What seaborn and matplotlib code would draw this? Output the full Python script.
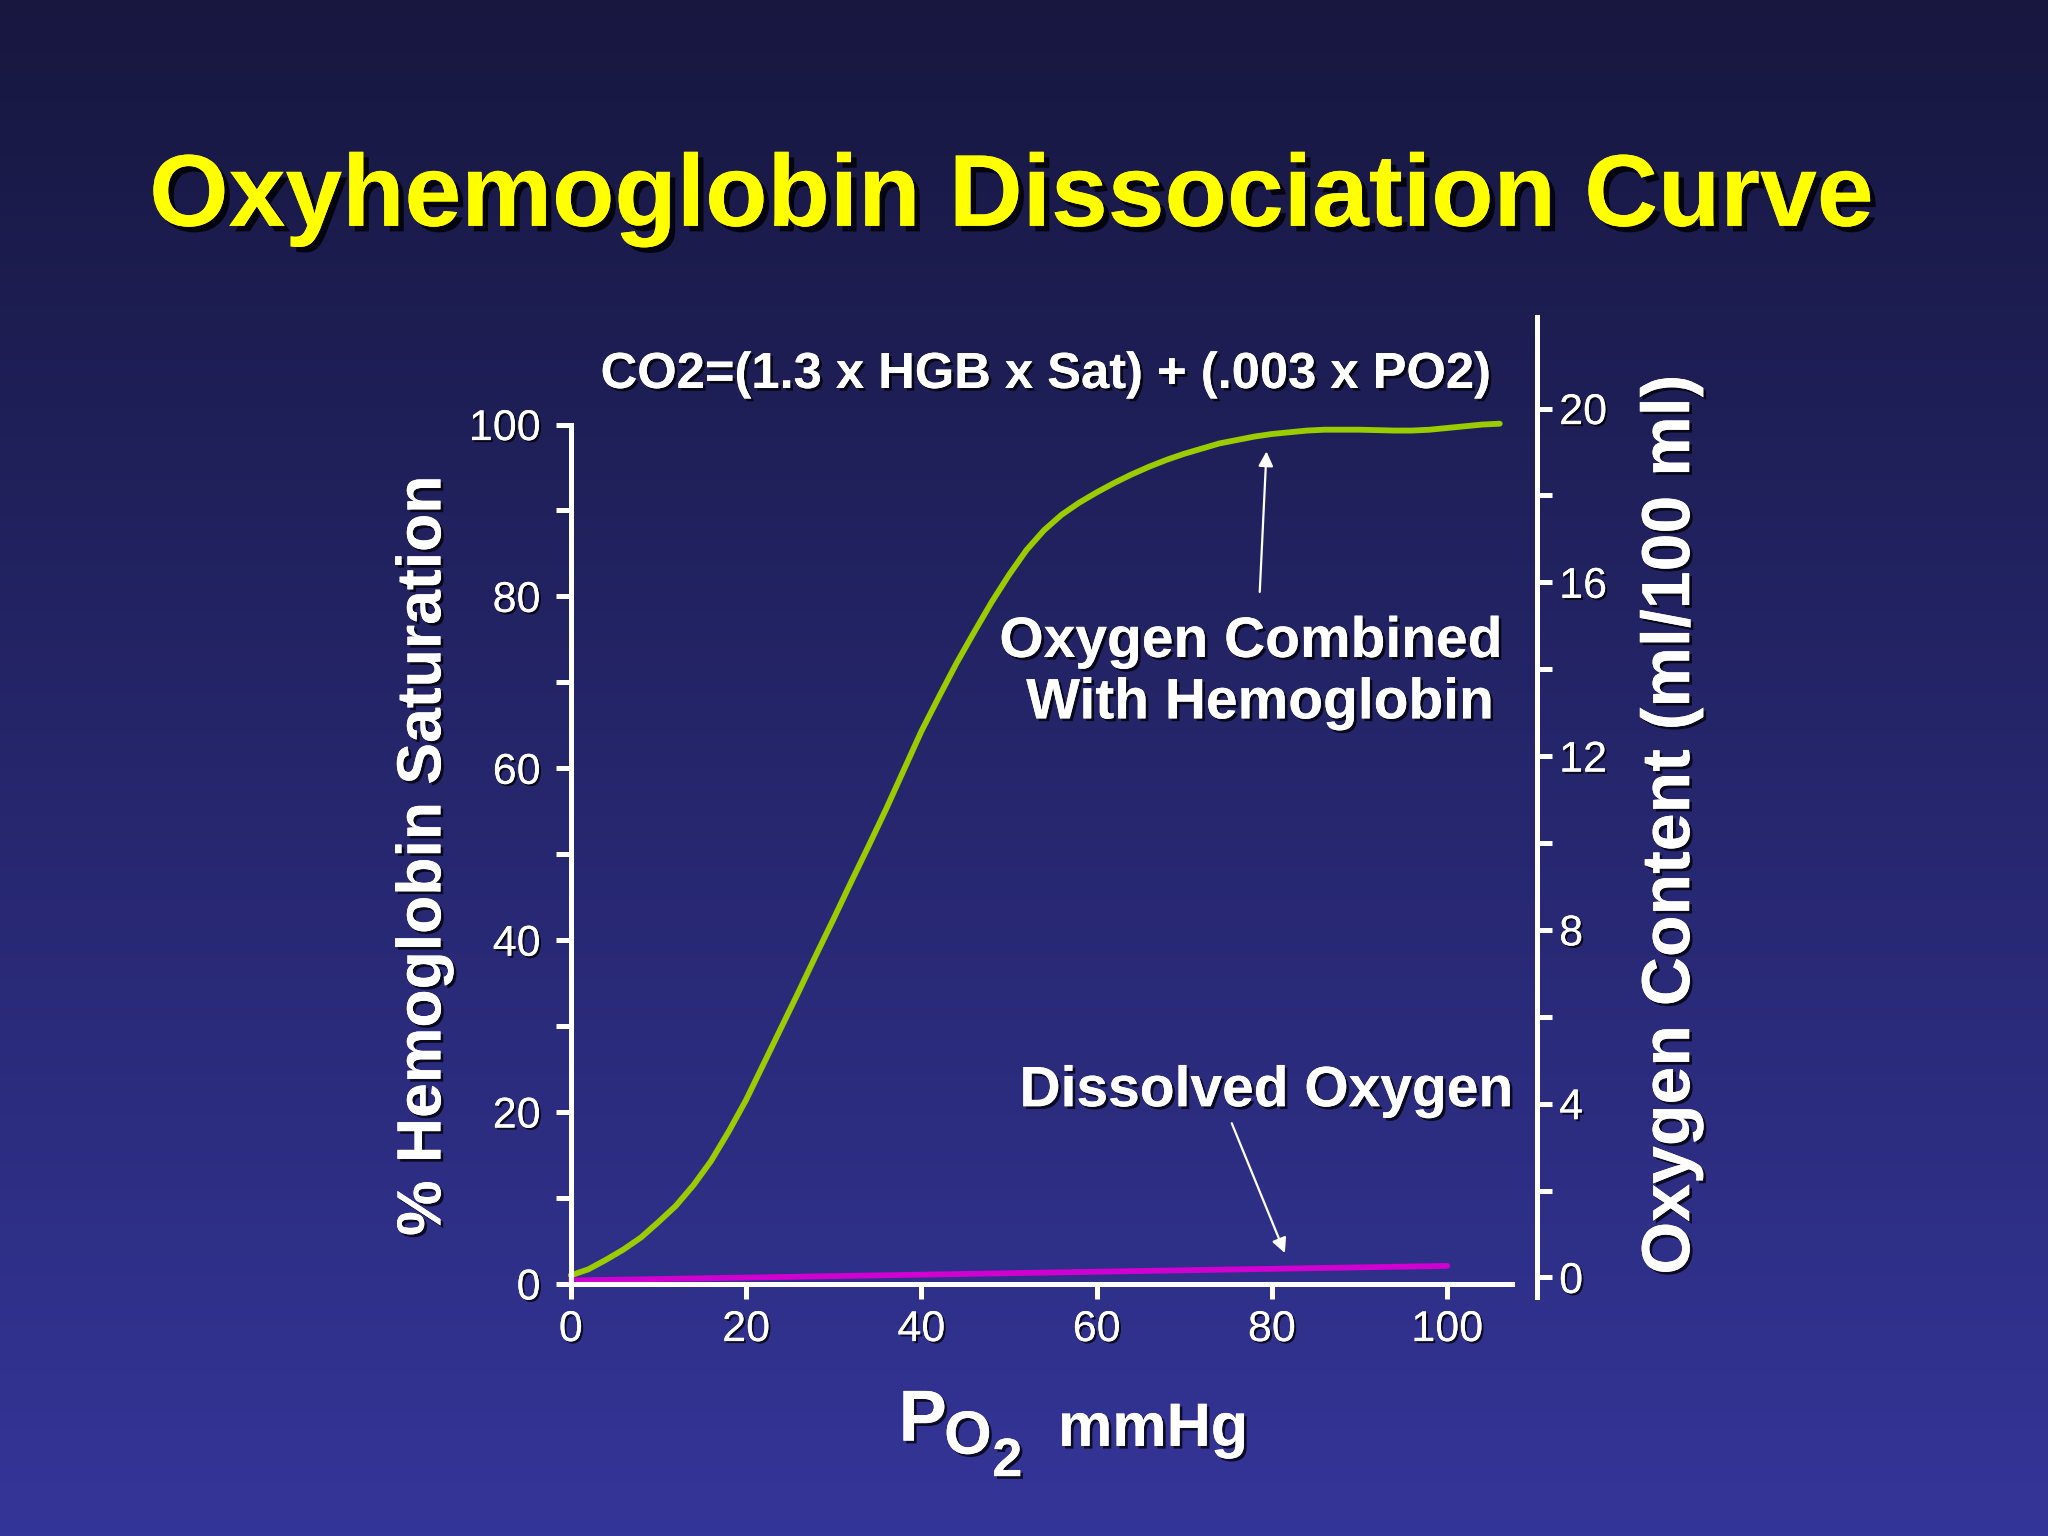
#!/usr/bin/env python3

import seaborn as sns
import matplotlib.pyplot as plt
import matplotlib.patheffects as pe
import numpy as np

# values
po2 = [0, 2, 4, 6, 8, 10, 12, 14, 16, 18, 20, 22, 24, 26, 28, 30, 32, 34, 36, 38, 40,
       42, 44, 46, 48, 50, 52, 54, 56, 58, 60, 62, 64, 66, 68, 70, 72, 74, 76, 78, 80,
       82, 84, 86, 88, 90, 92, 94, 96, 98, 100, 102, 104, 106]
saturation = [1.0, 1.7, 2.8, 4.0, 5.4, 7.2, 9.1, 11.5, 14.3, 17.7, 21.4, 25.6, 29.8, 34.0,
              38.3, 42.5, 46.8, 51.0, 55.3, 59.8, 64.3, 68.3, 72.2, 75.8, 79.3, 82.5, 85.4,
              87.7, 89.5, 90.9, 92.1, 93.2, 94.2, 95.1, 95.9, 96.6, 97.2, 97.8, 98.2, 98.6,
              98.9, 99.1, 99.3, 99.4, 99.4, 99.4, 99.35, 99.3, 99.3, 99.4, 99.6, 99.8, 100.0,
              100.1]
po2_dissolved = [0, 100]
dissolved = [0.4, 2.1]

x_ticks = [0, 20, 40, 60, 80, 100]
sat_ticks = [0, 20, 40, 60, 80, 100]
sat_minor = [10, 30, 50, 70, 90]
content_ticks = [0, 4, 8, 12, 16, 20]
content_minor = [2, 6, 10, 14, 18]

sns.set_style("ticks")
plt.rcParams['font.family'] = ['Liberation Sans', 'DejaVu Sans']

WHITE = "white"


def shadow(off=2.0, alpha=0.75):
    return [pe.withSimplePatchShadow(offset=(off, -off), shadow_rgbFace="black", alpha=alpha),
            pe.Normal()]


fig = plt.figure(figsize=(20.48, 15.36), dpi=100)

# slide background: vertical gradient
bg = fig.add_axes([0, 0, 1, 1], zorder=-10)
top = np.array([23, 23, 64]) / 255
bottom = np.array([52, 53, 152]) / 255
t = np.linspace(0, 1, 256)[:, None]
grad = top + (bottom - top) * t
bg.imshow(grad[:, None, :].repeat(2, axis=1), aspect="auto", extent=[0, 1, 0, 1])
bg.set_axis_off()

# main axes (saturation)
ax = fig.add_axes([0.2787, 0.1641, 0.4598, 0.5595])
ax.patch.set_alpha(0)
sns.lineplot(x=po2, y=saturation, ax=ax, color="#9acc00", lw=4.2, estimator=None, sort=False)
sns.lineplot(x=po2_dissolved, y=dissolved, ax=ax, color="#d000d0", lw=4.2, estimator=None)
for line in ax.lines:
    line.set_clip_on(False)
    line.set_solid_capstyle("round")
    line.set_solid_joinstyle("round")

ax.set_xlim(0, 107.45)
ax.set_ylim(0, 100)
ax.set_xticks(x_ticks)
ax.set_yticks(sat_ticks)
ax.set_yticks(sat_minor, minor=True)
sns.despine(ax=ax)
for s in ["left", "bottom"]:
    ax.spines[s].set_color(WHITE)
    ax.spines[s].set_linewidth(3.6)
ax.tick_params(axis="both", which="both", length=10.8, width=3.6, colors=WHITE, direction="out")
ax.tick_params(axis="y", which="major", labelsize=31, pad=11)
ax.tick_params(axis="x", which="major", labelsize=31, pad=8)
ax.set_xlabel("")
ax.set_ylabel("")

# right axis (oxygen content)
ax2 = fig.add_axes([0.7406, 0.1556, 0.01, 0.6378])
ax2.patch.set_alpha(0)
ax2.set_ylim(-0.45, 22.1)
ax2.set_yticks(content_ticks)
ax2.set_yticks(content_minor, minor=True)
ax2.set_xticks([])
for s in ["left", "top", "bottom"]:
    ax2.spines[s].set_visible(False)
ax2.spines["right"].set_color(WHITE)
ax2.spines["right"].set_linewidth(3.6)
ax2.yaxis.tick_right()
ax2.tick_params(axis="y", which="both", length=10.8, width=3.6, colors=WHITE, direction="out")
ax2.tick_params(axis="y", which="major", labelsize=31, pad=5)

for lbl in ax.get_xticklabels() + ax.get_yticklabels() + ax2.get_yticklabels():
    lbl.set_path_effects(shadow(1.5))

# arrows
ax.annotate("", xy=(79.4, 97.2), xytext=(78.6, 80.2),
            arrowprops=dict(arrowstyle="-|>", color=WHITE, lw=1.6, mutation_scale=22),
            annotation_clip=False)
ax.annotate("", xy=(81.6, 3.3), xytext=(75.3, 19.0),
            arrowprops=dict(arrowstyle="-|>", color=WHITE, lw=1.6, mutation_scale=22),
            annotation_clip=False)

# texts
fig.text(0.494, 0.853, "Oxyhemoglobin Dissociation Curve", color="#ffff00", fontsize=73.5,
         fontweight="bold", ha="center", va="baseline", path_effects=shadow(4, 0.8))
fig.text(0.511, 0.7474, "CO2=(1.3 x HGB x Sat) + (.003 x PO2)", color=WHITE, fontsize=36.5,
         fontweight="bold", ha="center", va="baseline", path_effects=shadow(2))
fig.text(0.611, 0.5723, "Oxygen Combined", color=WHITE, fontsize=41, fontweight="bold",
         ha="center", va="baseline", path_effects=shadow(2))
fig.text(0.6154, 0.5323, "With Hemoglobin", color=WHITE, fontsize=41, fontweight="bold",
         ha="center", va="baseline", path_effects=shadow(2))
fig.text(0.6186, 0.2798, "Dissolved Oxygen", color=WHITE, fontsize=41, fontweight="bold",
         ha="center", va="baseline", path_effects=shadow(2))
fig.text(0.207, 0.443, "% Hemoglobin Saturation", color=WHITE, fontsize=45, fontweight="bold",
         rotation=90, ha="center", va="center", path_effects=shadow(2))
fig.text(0.816, 0.463, "Oxygen Content (ml/100 ml)", color=WHITE, fontsize=49, fontweight="bold",
         rotation=90, ha="center", va="center", path_effects=shadow(2))

# x label: P with O2 subscript, then mmHg
fig.text(0.4388, 0.0621, "P", color=WHITE, fontsize=52, fontweight="bold",
         ha="left", va="baseline", path_effects=shadow(2))
fig.text(0.4610, 0.0536, "O", color=WHITE, fontsize=44, fontweight="bold",
         ha="left", va="baseline", path_effects=shadow(2))
fig.text(0.4845, 0.039, "2", color=WHITE, fontsize=39, fontweight="bold",
         ha="left", va="baseline", path_effects=shadow(2))
fig.text(0.5166, 0.0587, "mmHg", color=WHITE, fontsize=44, fontweight="bold",
         ha="left", va="baseline", path_effects=shadow(2))

fig.savefig("out.png", dpi=100)
